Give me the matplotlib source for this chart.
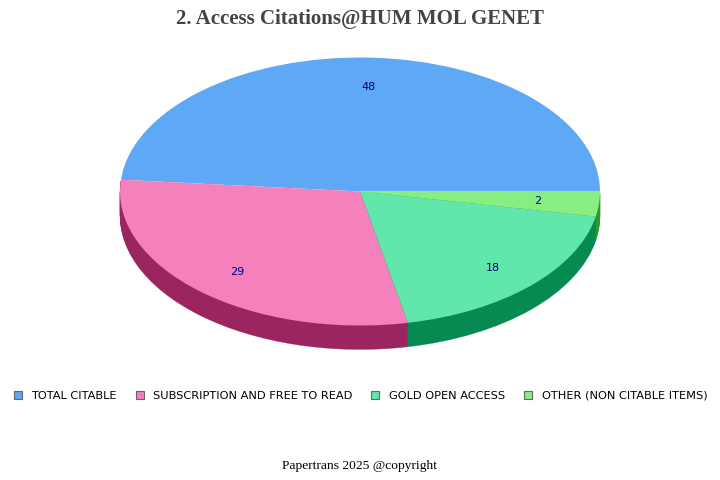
import numpy as np
import matplotlib
matplotlib.use("Agg")
import matplotlib.pyplot as plt
from matplotlib.patches import Patch

TITLE = "2. Access Citations@HUM MOL GENET"
FOOTER = "Papertrans 2025 @copyright"
categories = ["TOTAL CITABLE", "SUBSCRIPTION AND FREE TO READ", "GOLD OPEN ACCESS", "OTHER (NON CITABLE ITEMS)"]
values = [48.6, 29.6, 18.8, 3.0]
value_labels = ["48", "29", "18", "2"]
top_colors = ["#5fa8f5", "#f480bc", "#61e6ac", "#88ee82"]
side_colors = ["none", "#9b255f", "#078a52", "#2a9a2a"]
label_nudge_px = [(0, 0), (2, -3), (0, -3), (-9, 0)]

W, H = 720, 480
fig = plt.figure(figsize=(W / 100, H / 100), dpi=100, facecolor="white")
RX, RY = 240, 134
CX, CY = 360, 191.5
DEPTH = 24
ax = fig.add_axes([(CX - RX) / W, 1 - (CY + RY) / H, 2 * RX / W, 2 * RY / H])

for px in range(DEPTH, 0, -1):
    wedges, _ = ax.pie(values, colors=side_colors, startangle=0, counterclock=True,
                       radius=1, center=(0, -px / RY))
    for w in wedges:
        w.set_clip_on(False)
        if w.get_facecolor()[3] > 0:
            w.set_edgecolor(w.get_facecolor())
            w.set_linewidth(0.2)

wedges, _ = ax.pie(values, colors=top_colors, startangle=0, counterclock=True, radius=1, center=(0, 0))
for w in wedges:
    w.set_clip_on(False)

total = sum(values)
start = 0.0
for v, lab, (nx, ny) in zip(values, value_labels, label_nudge_px):
    mid = np.deg2rad(start + v / total * 180)
    ax.annotate(lab, (0.78 * np.cos(mid), 0.78 * np.sin(mid)), xytext=(nx * 0.72, ny * 0.72),
                textcoords="offset points", ha="center", va="center",
                fontsize=8, color="#000080", family="DejaVu Sans", zorder=10)
    start += v / total * 360

ax.set_aspect("auto")
ax.set_xlim(-1, 1)
ax.set_ylim(-1, 1)
ax.axis("off")

fig.text(CX / W, 1 - 19 / H, TITLE, ha="center", va="center", fontsize=15, fontweight="bold",
         family="Liberation Serif", color="#444444")
fig.text(CX / W, 1 - 466 / H, FOOTER, ha="center", va="center", fontsize=9.7,
         family="Liberation Serif", color="black")

handles = [Patch(facecolor=c, edgecolor="#666666", linewidth=0.8) for c in top_colors]
fig.legend(handles, categories, loc="center", bbox_to_anchor=(360.5 / W, 1 - 396 / H), ncol=4, frameon=False,
           handlelength=0.7, handleheight=0.7, handletextpad=0.85, columnspacing=1.65,
           prop={"family": "DejaVu Sans", "size": 8.2})

fig.savefig("out.png", dpi=100, facecolor="white")
